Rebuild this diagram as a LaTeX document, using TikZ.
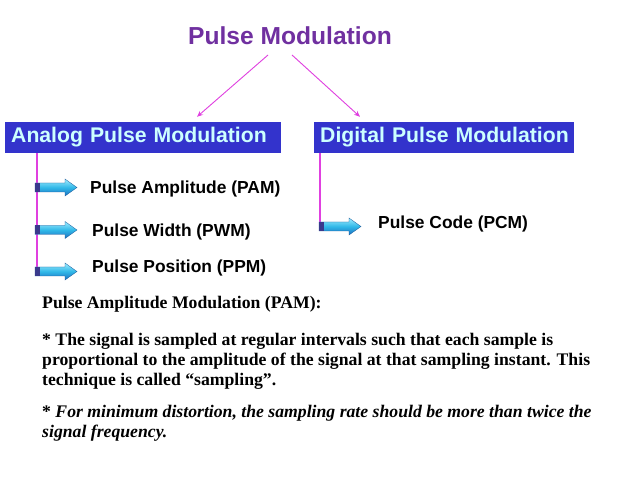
\documentclass[tikz,border=0pt]{standalone}
\usepackage{fontspec}
\setmainfont{Liberation Serif}
\setsansfont{Liberation Sans}
\usetikzlibrary{calc,arrows.meta}
\definecolor{boxblue}{HTML}{3333CC}
\definecolor{boxtext}{HTML}{CCFFFF}
\definecolor{titlepurple}{HTML}{7030A0}
\definecolor{linkmag}{HTML}{E040E0}
\definecolor{stubblue}{HTML}{3A3A8C}
\definecolor{arrowlight}{HTML}{A0ECFF}
\definecolor{arrowmid}{HTML}{30B8E8}
\definecolor{arrowdark}{HTML}{1E6FC0}
\begin{document}
\begin{tikzpicture}[x=1pt,y=-1pt,
  titletext/.style={font=\sffamily\bfseries\fontsize{24.6}{28}\selectfont, text=titlepurple, inner sep=0pt},
  catbox/.style={fill=boxblue, text=boxtext, font=\sffamily\bfseries\fontsize{21.2}{24}\selectfont, align=left, inner xsep=6pt, inner ysep=0pt, minimum height=31pt, anchor=west},
  link/.style={draw=linkmag, line width=1.1pt},
  linkarrow/.style={draw=linkmag, line width=0.9pt, -{Stealth[length=6pt,width=5pt]}},
  blockarrow/.style={top color=arrowlight, bottom color=arrowdark, middle color=arrowmid, draw=arrowdark!80!black, line width=0.3pt},
  stub/.style={fill=stubblue},
  itemtext/.style={font=\sffamily\bfseries\fontsize{17.4}{20}\selectfont, anchor=west, inner sep=0pt},
  bodytext/.style={font=\bfseries\fontsize{17.7}{20}\selectfont, anchor=base west, inner sep=0pt}
]
\useasboundingbox (0,0) rectangle (638,478);
\fill[white] (0,0) rectangle (638,478);

\node[titletext] (title) at (290,36) {Pulse Modulation};

\node[catbox, text width=264pt] (analog) at (5,137.5) {\mbox{Analog Pulse Modulation}};
\node[catbox, text width=248pt] (digital) at (314,137.5) {\mbox{Digital Pulse Modulation}};

\coordinate (tl) at (268,55);
\coordinate (tr) at (292,55);
\draw[linkarrow] (tl) -- ($(analog.north west)+(192,-5)$);
\draw[linkarrow] (tr) -- ($(digital.north west)+(46,-5)$);

% block arrow tails
\coordinate (pam) at (35,187.5);
\coordinate (pwm) at (35,230);
\coordinate (ppm) at (35,271.5);
\coordinate (pcm) at (319,226.5);

\draw[link] (analog.south west -| 37,0) -- (37,275);
\draw[link] (digital.south west -| 320,0) -- (320,230);

\foreach \a in {pam,pwm,ppm,pcm}{
  \shade[blockarrow] (\a) ++(0,-4.5) -- ++(30,0) -- ++(0,-4) -- ++(12,8.5) -- ++(-12,8.5) -- ++(0,-4) -- ++(-30,0) -- cycle;
  \fill[stub] ([yshift=4.5pt]\a) rectangle ([xshift=5pt,yshift=-4.5pt]\a);
}
\node[itemtext] (tpam) at (90,189) {Pulse Amplitude (PAM)};
\node[itemtext] (tpwm) at (92,232) {Pulse Width (PWM)};
\node[itemtext] (tppm) at (92,268) {Pulse Position (PPM)};
\node[itemtext] (tpcm) at (378,224) {Pulse Code (PCM)};

% description
\node[bodytext] (l1) at (42,309) {Pulse Amplitude Modulation (PAM):};
\node[bodytext] (l2) at (42,346) {* The signal is sampled at regular intervals such that each sample is};
\node[bodytext] (l3) at (42,366) {proportional to the amplitude of the signal at that sampling instant. This};
\node[bodytext] (l4) at (42,386) {technique is called “sampling”.};
\node[bodytext] (l5) at (42,418) {* \textit{For minimum distortion, the sampling rate should be more than twice the}};
\node[bodytext] (l6) at (42,438) {\textit{signal frequency.}};
\end{tikzpicture}
\end{document}
